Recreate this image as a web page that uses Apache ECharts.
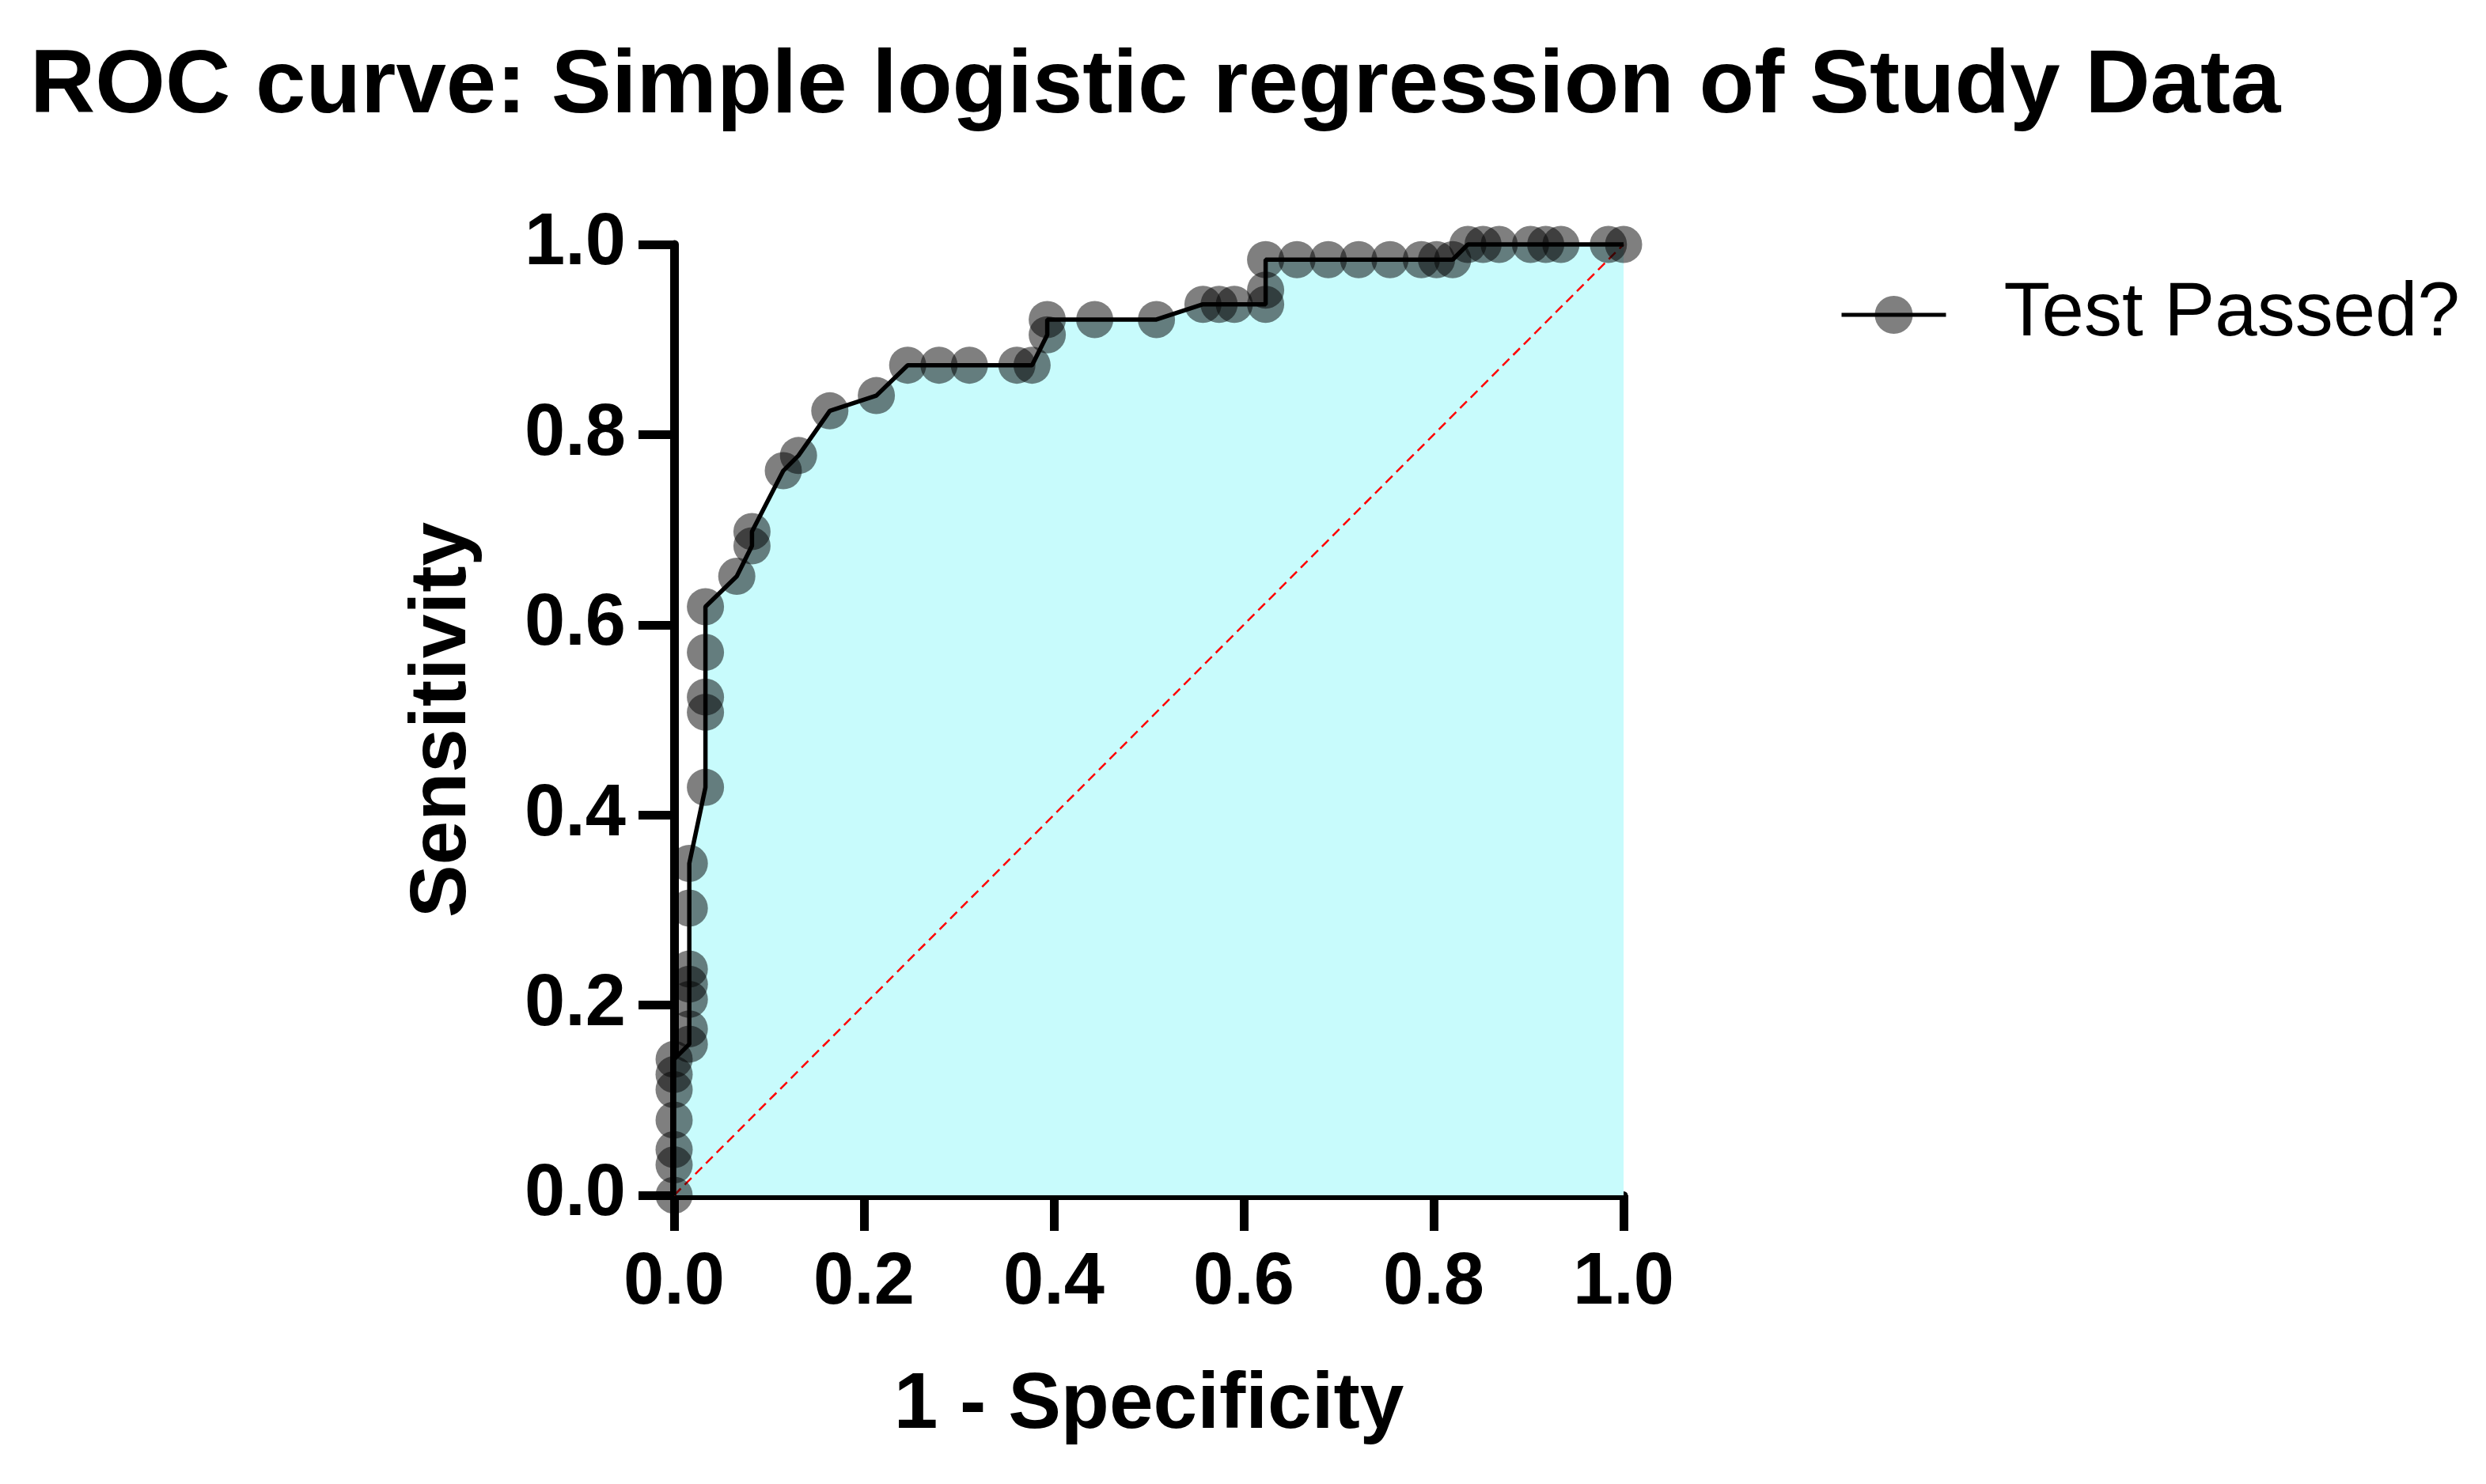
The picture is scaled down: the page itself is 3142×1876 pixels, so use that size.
<!DOCTYPE html>
<html>
<head>
<meta charset="utf-8">
<script src="https://cdn.jsdelivr.net/npm/echarts@6/dist/echarts.min.js"></script>
<style>
  html, body { margin: 0; padding: 0; background: #fff; }
  #roc { width: 3142px; height: 1876px; }
</style>
</head>
<body>
<div id="roc"></div>
<script>
var myChartROC = echarts.init(document.getElementById('roc'));

// 1 - Specificity (x) and Sensitivity (y)
var fpr = [0, 0, 0, 0, 0, 0, 0,
  0.016, 0.016, 0.016, 0.016, 0.016, 0.016, 0.016,
  0.033, 0.033, 0.033, 0.033, 0.033,
  0.066, 0.082, 0.082, 0.115, 0.131, 0.164, 0.213,
  0.246, 0.279, 0.311, 0.361, 0.377,
  0.393, 0.393, 0.443, 0.508,
  0.557, 0.574, 0.590, 0.623, 0.623, 0.623,
  0.656, 0.689, 0.721, 0.754, 0.787, 0.803, 0.820,
  0.836, 0.852, 0.869, 0.902, 0.918, 0.934, 0.984, 1];
var tpr = [0, 0.032, 0.048, 0.079, 0.111, 0.127, 0.143,
  0.159, 0.175, 0.206, 0.222, 0.238, 0.302, 0.349,
  0.429, 0.508, 0.524, 0.571, 0.619,
  0.651, 0.683, 0.698, 0.762, 0.778, 0.825, 0.841,
  0.873, 0.873, 0.873, 0.873, 0.873,
  0.905, 0.921, 0.921, 0.921,
  0.937, 0.937, 0.937, 0.937, 0.952, 0.984,
  0.984, 0.984, 0.984, 0.984, 0.984, 0.984, 0.984,
  1, 1, 1, 1, 1, 1, 1, 1];
var chanceLine = [[0, 0], [1, 1]];
var axisTicks = [0, 0.2, 0.4, 0.6, 0.8, 1];

var seriesName = 'Test Passed?';
var rocData = fpr.map(function (x, i) { return [x, tpr[i]]; });

var fontName = '"Liberation Sans", Arial, Helvetica, sans-serif';

function axisOpt(name, gap, margin) {
  return {
    type: 'value',
    min: axisTicks[0],
    max: axisTicks[axisTicks.length - 1],
    interval: axisTicks[1] - axisTicks[0],
    name: name,
    nameLocation: 'middle',
    nameGap: gap,
    nameTextStyle: { color: '#000', fontSize: 100, fontWeight: 'bold', fontFamily: fontName },
    axisLine: { show: true, lineStyle: { color: '#000', width: 11 } },
    axisTick: { show: true, length: 45, lineStyle: { color: '#000', width: 11 } },
    axisLabel: {
      margin: margin,
      color: '#000',
      fontSize: 92,
      fontWeight: 'bold',
      fontFamily: fontName,
      formatter: function (v) { return v.toFixed(1); }
    },
    splitLine: { show: false }
  };
}

var optionROC = {
  animation: false,
  backgroundColor: '#fff',
  title: {
    text: 'ROC curve: Simple logistic regression of Study Data',
    left: 38,
    top: 54,
    padding: 0,
    textStyle: { color: '#000', fontSize: 114, fontWeight: 'bold', fontFamily: fontName }
  },
  legend: {
    data: [seriesName],
    left: 2325,
    top: 350,
    padding: 0,
    itemWidth: 132,
    itemHeight: 60,
    lineStyle: { width: 5 },
    textStyle: { color: '#000', fontSize: 96, fontFamily: fontName, padding: [0, 0, 0, 68] }
  },
  grid: {
    left: 852,
    right: 1090,
    top: 309,
    bottom: 365,
    outerBoundsMode: 'none'
  },
  xAxis: axisOpt('1 - Specificity', 216, 66),
  yAxis: axisOpt('Sensitivity', 242, 61),
  series: [{
    // shaded area under the curve
    name: 'area',
    type: 'line',
    data: rocData,
    showSymbol: false,
    clip: false,
    lineStyle: { width: 0 },
    areaStyle: { color: '#c8fbfc', opacity: 1 },
    z: 1
  }, {
    name: 'chance',
    type: 'line',
    data: chanceLine,
    showSymbol: false,
    lineStyle: { color: '#ff0000', width: 2.5, type: [12, 7] },
    z: 2
  }, {
    name: seriesName,
    type: 'line',
    data: rocData,
    symbol: 'circle',
    symbolSize: 47,
    clip: false,
    itemStyle: { color: 'rgba(0,0,0,0.5)' },
    lineStyle: { color: '#000', width: 5.5 },
    z: 3
  }]
};

myChartROC.setOption(optionROC);

window.addEventListener('resize', function () {
  myChartROC.resize();
});
</script>
</body>
</html>
